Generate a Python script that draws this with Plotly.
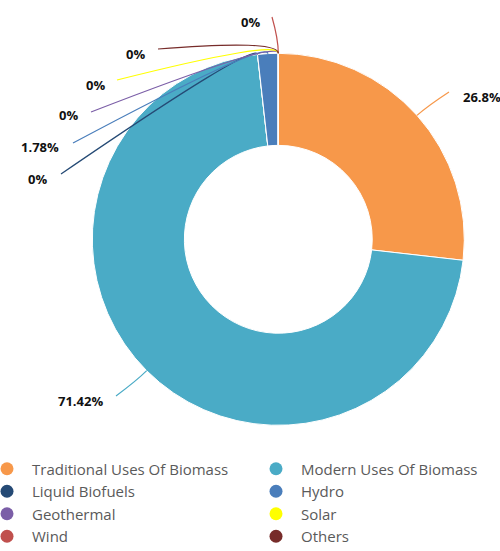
import math
import plotly.graph_objects as go

# ---- data ----
categories = ["Traditional Uses Of Biomass", "Modern Uses Of Biomass", "Liquid Biofuels",
              "Hydro", "Geothermal", "Solar", "Wind", "Others"]
shares = [26.8, 71.42, 0, 1.78, 0, 0, 0, 0]
colors = ["#f7984a", "#4aabc6", "#254a75", "#4a7ebb", "#7b5ea7", "#ffff00", "#c0504d", "#772c2a"]

# ---- layout / style ----
W, H = 500, 551
CX, CY, R = 278.3, 239.3, 186.0
HOLE = 0.505
# label anchor (connector end x, y, text edge x, text y, xanchor) per slice
label_layout = [
    (449, 92, 461, 97, "left"),
    (116, 396, 105, 401, "right"),
    (61, 174, 49, 179, "right"),
    (73, 143, 61, 147, "right"),
    (91, 112, 80, 115, "right"),
    (117, 80, 107, 85, "right"),
    (272, 17, 262, 22, "right"),
    (158, 49, 147, 54, "right"),
]

fig = go.Figure()
fig.add_trace(go.Pie(
    labels=categories, values=shares, sort=False, direction="clockwise", rotation=0,
    hole=HOLE, textinfo="none", showlegend=False,
    marker=dict(colors=colors, line=dict(color="white", width=1)),
    domain=dict(x=[(CX - R) / W, (CX + R) / W], y=[(H - CY - R) / H, (H - CY + R) / H]),
))

# legend entries as circle markers, two columns (row-major order)
for i, (name, c) in enumerate(zip(categories, colors)):
    fig.add_trace(go.Scatter(x=[None], y=[None], mode="markers", name=name,
                             legend="legend" if i % 2 == 0 else "legend2",
                             marker=dict(color=c, size=13, symbol="circle")))

total = sum(shares)
cum = 0.0
shapes = []
annotations = []
for i, v in enumerate(shares):
    mid = (cum + v / 2) / total * 2 * math.pi
    cum += v
    ex, ey = CX + R * math.sin(mid), CY - R * math.cos(mid)
    bx, by = CX + (R + 14) * math.sin(mid), CY - (R + 14) * math.cos(mid)
    lx, ly, tx, ty, xa = label_layout[i]
    shapes.append(dict(type="path", xref="x", yref="y",
                       path=f"M {ex:.1f},{ey:.1f} Q {bx:.1f},{by:.1f} {lx},{ly}",
                       line=dict(color=colors[i], width=1.2), layer="above"))
    annotations.append(dict(x=tx, y=ty, xref="x", yref="y", text=f"<b>{v:g}%</b>",
                            showarrow=False, xanchor=xa, yanchor="middle",
                            font=dict(family="Open Sans", size=13, color="#111111")))

legend_style = dict(orientation="v", xanchor="left", yanchor="top", itemwidth=40,
                    font=dict(family="Open Sans", size=15, color="#5a5a5a"),
                    bgcolor="rgba(0,0,0,0)", borderwidth=0)

fig.update_layout(
    width=W, height=H, margin=dict(l=0, r=0, t=0, b=0, autoexpand=False),
    paper_bgcolor="white", plot_bgcolor="rgba(0,0,0,0)",
    xaxis=dict(range=[0, W], visible=False, domain=[0, 1], fixedrange=True),
    yaxis=dict(range=[H, 0], visible=False, domain=[0, 1], fixedrange=True),
    shapes=shapes, annotations=annotations,
    legend=dict(x=-18 / W, y=1 - 452.5 / H, **legend_style),
    legend2=dict(x=251 / W, y=1 - 452.5 / H, **legend_style),
)
fig.write_html("out.html")
